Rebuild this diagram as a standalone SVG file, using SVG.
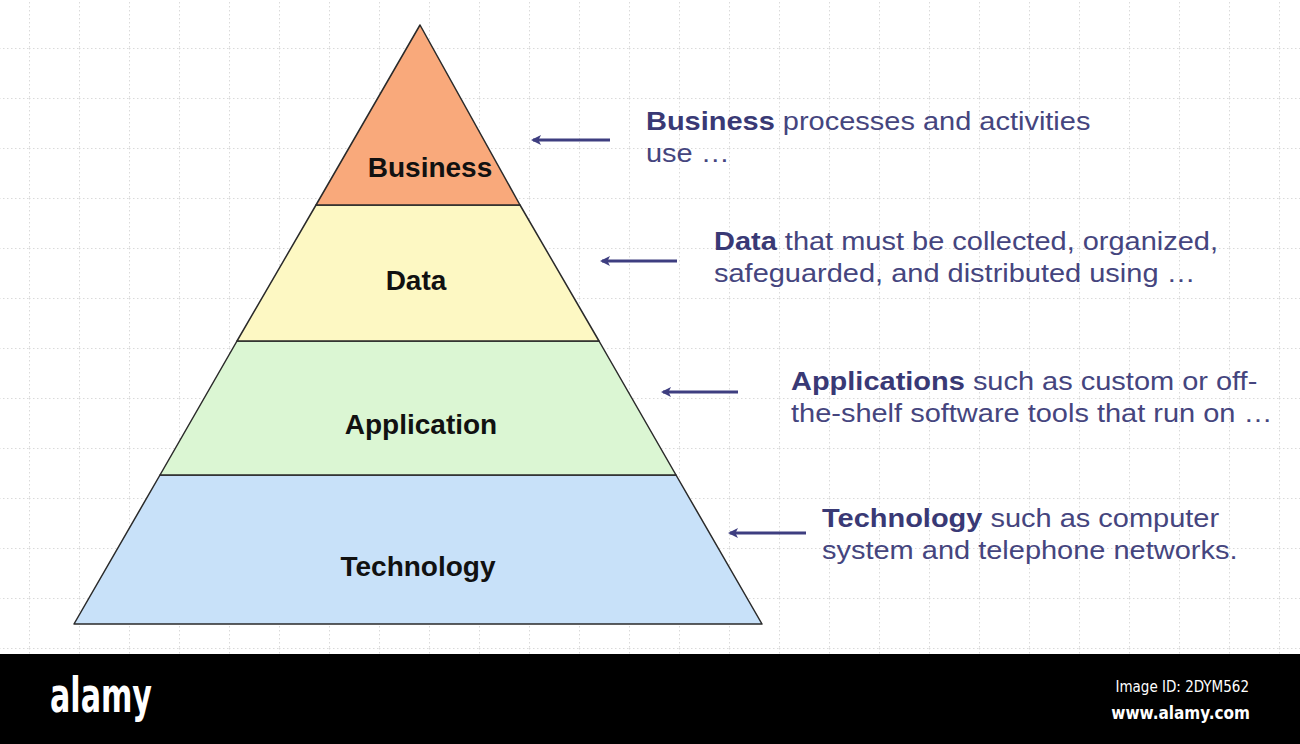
<svg xmlns="http://www.w3.org/2000/svg" width="1300" height="744" viewBox="0 0 1300 744">
<defs>
<pattern id="grid" x="29" y="48" width="50" height="50" patternUnits="userSpaceOnUse">
<line x1="0.5" y1="0" x2="0.5" y2="50" stroke="#dadada" stroke-width="1" stroke-dasharray="1.5 2.5"/>
<line x1="0" y1="0.5" x2="50" y2="0.5" stroke="#dadada" stroke-width="1" stroke-dasharray="1.5 2.5"/>
</pattern>
<marker id="ah" viewBox="0 0 10 10" refX="8" refY="5" markerWidth="12" markerHeight="10" orient="auto" markerUnits="userSpaceOnUse">
<path d="M0,0 L10,5 L0,10 L2.5,5 Z" fill="#3e3e80"/>
</marker>
<style>
.band{stroke:#2a2a2a;stroke-width:1.5;stroke-linejoin:round}
.lbl{font-family:"Liberation Sans",Arial,sans-serif;font-weight:bold;font-size:28px;fill:#111;text-anchor:middle}
.desc{font-family:"Liberation Sans",Arial,sans-serif;font-size:26px;fill:#45457e}
.desc .b{font-weight:bold;fill:#393975}
.arrow{stroke:#3e3e80;stroke-width:3;fill:none}
.wm{font-family:"DejaVu Sans Condensed","DejaVu Sans",sans-serif;fill:#fff}
</style>
</defs>
<rect x="0" y="0" width="1300" height="654" fill="#ffffff"/>
<rect x="0" y="0" width="1300" height="654" fill="url(#grid)"/>

<g id="technology">
<polygon class="band" points="160,475 676,475 762,624 74,624" fill="#c8e1f9"/>
<text class="lbl" x="418" y="576">Technology</text>
</g>
<g id="application">
<polygon class="band" points="237,341 599,341 676,475 160,475" fill="#dbf6d3"/>
<text class="lbl" x="421" y="434">Application</text>
</g>
<g id="data">
<polygon class="band" points="316,205 520,205 599,341 237,341" fill="#fdf8c3"/>
<text class="lbl" x="416" y="290">Data</text>
</g>
<g id="business">
<polygon class="band" points="420,25 520,205 316,205" fill="#f9a97b"/>
<text class="lbl" x="430" y="177">Business</text>
</g>

<g id="connectors">
<line class="arrow" x1="610" y1="140" x2="533" y2="140" marker-end="url(#ah)"/>
<line class="arrow" x1="677" y1="261" x2="602" y2="261" marker-end="url(#ah)"/>
<line class="arrow" x1="738" y1="392" x2="663" y2="392" marker-end="url(#ah)"/>
<line class="arrow" x1="806" y1="533" x2="730" y2="533" marker-end="url(#ah)"/>
</g>

<g id="desc-business" transform="translate(646,130) scale(1.115,1)">
<text class="desc" x="0" y="0"><tspan class="b">Business</tspan> processes and activities</text>
<text class="desc" x="0" y="32">use …</text>
</g>
<g id="desc-data" transform="translate(714,250) scale(1.115,1)">
<text class="desc" x="0" y="0"><tspan class="b">Data</tspan> that must be collected, organized,</text>
<text class="desc" x="0" y="32">safeguarded, and distributed using …</text>
</g>
<g id="desc-application" transform="translate(791,390) scale(1.115,1)">
<text class="desc" x="0" y="0"><tspan class="b">Applications</tspan> such as custom or off-</text>
<text class="desc" x="0" y="32">the-shelf software tools that run on …</text>
</g>
<g id="desc-technology" transform="translate(822,527) scale(1.115,1)">
<text class="desc" x="0" y="0"><tspan class="b">Technology</tspan> such as computer</text>
<text class="desc" x="0" y="32">system and telephone networks.</text>
</g>

<g id="watermark-bar">
<rect x="0" y="654" width="1300" height="90" fill="#000"/>
<text class="wm" x="50" y="712" font-size="48" font-weight="bold" textLength="102" lengthAdjust="spacingAndGlyphs">alamy</text>
<text class="wm" x="1249" y="692" font-size="15" text-anchor="end">Image ID: 2DYM562</text>
<text class="wm" x="1250" y="719" font-size="17" font-weight="bold" text-anchor="end">www.alamy.com</text>
</g>
</svg>
